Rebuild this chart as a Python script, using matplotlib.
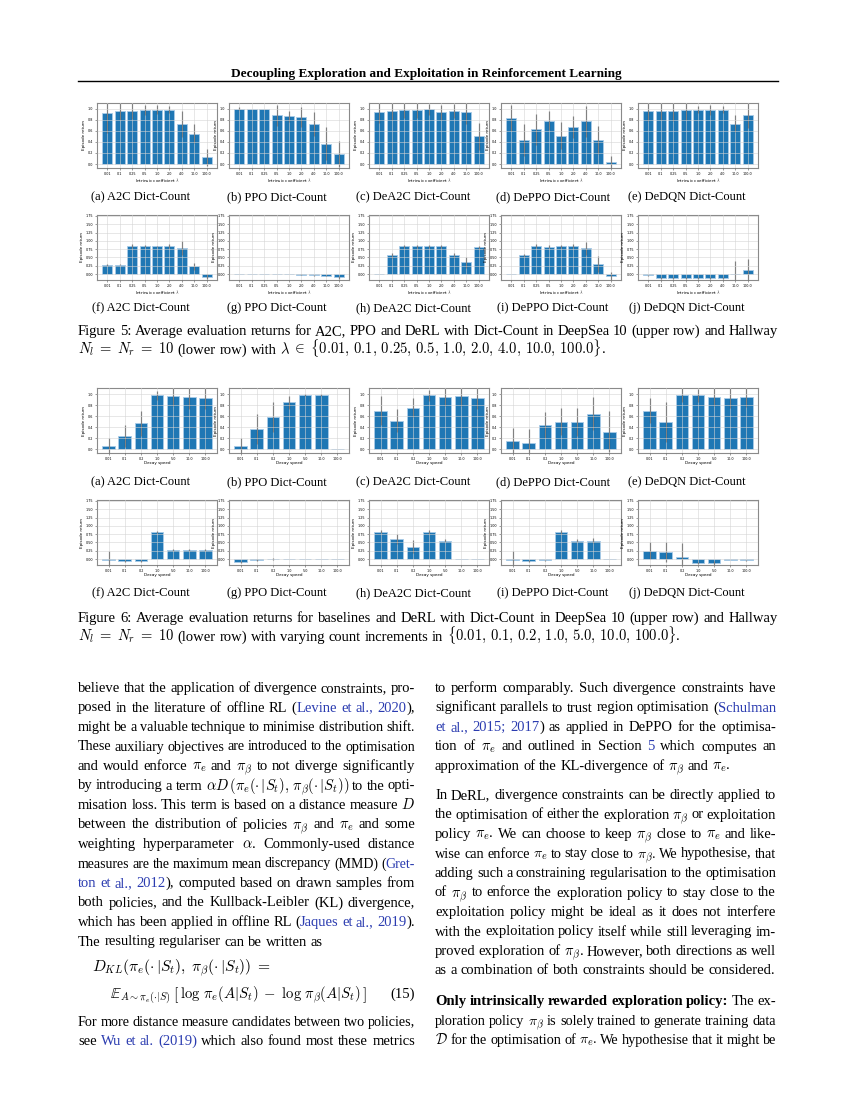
import re
import numpy as np
import matplotlib
matplotlib.use("Agg")
import matplotlib.pyplot as plt

# ------------------------------------------
# data
# ------------------------------------------
lambdas = ['0.01', '0.1', '0.25', '0.5', '1.0', '2.0', '4.0', '10.0', '100.0']
decays = ['0.01', '0.1', '0.2', '1.0', '5.0', '10.0', '100.0']
methods = ['A2C', 'PPO', 'DeA2C', 'DePPO', 'DeDQN']

# Figure 5, DeepSea 10 (rows: A2C, PPO, DeA2C, DePPO, DeDQN)
deepsea_lam_mean = [
    [0.92, 0.96, 0.96, 0.98, 0.98, 0.98, 0.72, 0.55, 0.12],
    [1.00, 1.00, 1.00, 0.88, 0.86, 0.84, 0.72, 0.37, 0.18],
    [0.93, 0.96, 0.98, 0.98, 0.99, 0.93, 0.96, 0.93, 0.50],
    [0.83, 0.43, 0.63, 0.78, 0.51, 0.67, 0.77, 0.43, 0.03],
    [0.95, 0.96, 0.96, 0.97, 0.98, 0.98, 0.98, 0.73, 0.88],
]
deepsea_lam_err = [
    [0.36, 0.16, 0.14, 0.09, 0.08, 0.06, 0.24, 0.17, 0.16],
    [0.02, 0.00, 0.00, 0.19, 0.10, 0.18, 0.22, 0.29, 0.24],
    [0.19, 0.16, 0.15, 0.15, 0.10, 0.13, 0.13, 0.21, 0.24],
    [0.24, 0.29, 0.28, 0.17, 0.24, 0.20, 0.28, 0.25, 0.12],
    [0.18, 0.16, 0.19, 0.17, 0.06, 0.09, 0.06, 0.16, 0.23],
]
# Figure 5, Hallway
hallway_lam_mean = [
    [0.28, 0.28, 0.84, 0.84, 0.84, 0.84, 0.79, 0.23, -0.08],
    [0.00, 0.00, 0.00, 0.00, 0.00, -0.02, -0.04, -0.05, -0.10],
    [0.00, 0.56, 0.84, 0.84, 0.84, 0.84, 0.56, 0.35, 0.81],
    [0.00, 0.56, 0.84, 0.82, 0.84, 0.84, 0.77, 0.30, -0.05],
    [-0.04, -0.11, -0.11, -0.11, -0.11, -0.11, -0.11, 0.01, 0.13],
]
hallway_lam_err = [
    [0.03, 0.02, 0.06, 0.03, 0.02, 0.07, 0.22, 0.10, 0.08],
    [0.00, 0.00, 0.00, 0.00, 0.00, 0.01, 0.02, 0.02, 0.04],
    [0.00, 0.07, 0.05, 0.05, 0.05, 0.05, 0.07, 0.17, 0.05],
    [0.00, 0.05, 0.06, 0.05, 0.05, 0.06, 0.20, 0.24, 0.12],
    [0.02, 0.03, 0.03, 0.03, 0.03, 0.03, 0.03, 0.38, 0.32],
]
# Figure 6, DeepSea 10
deepsea_dec_mean = [
    [0.05, 0.23, 0.47, 0.98, 0.96, 0.94, 0.92],
    [0.05, 0.36, 0.58, 0.85, 0.99, 0.99, 0.00],
    [0.70, 0.52, 0.75, 0.98, 0.95, 0.96, 0.93],
    [0.14, 0.12, 0.44, 0.50, 0.49, 0.64, 0.32],
    [0.70, 0.49, 0.98, 0.98, 0.95, 0.93, 0.94],
]
deepsea_dec_err = [
    [0.15, 0.20, 0.23, 0.08, 0.18, 0.21, 0.20],
    [0.15, 0.27, 0.27, 0.12, 0.02, 0.02, 0.00],
    [0.27, 0.21, 0.17, 0.10, 0.16, 0.17, 0.20],
    [0.25, 0.24, 0.23, 0.25, 0.26, 0.30, 0.37],
    [0.23, 0.36, 0.13, 0.12, 0.16, 0.19, 0.17],
]
# Figure 6, Hallway
hallway_dec_mean = [
    [-0.03, -0.06, -0.05, 0.82, 0.27, 0.27, 0.27],
    [-0.10, -0.03, 0.00, 0.00, 0.00, 0.00, 0.00],
    [0.82, 0.61, 0.37, 0.82, 0.55, 0.00, 0.00],
    [-0.03, -0.06, -0.04, 0.82, 0.55, 0.55, 0.00],
    [0.25, 0.20, 0.07, -0.12, -0.12, -0.03, -0.04],
]
hallway_dec_err = [
    [0.26, 0.03, 0.03, 0.04, 0.03, 0.02, 0.03],
    [0.03, 0.02, 0.03, 0.00, 0.00, 0.00, 0.00],
    [0.05, 0.15, 0.20, 0.06, 0.05, 0.00, 0.00],
    [0.27, 0.03, 0.02, 0.06, 0.04, 0.07, 0.00],
    [0.26, 0.30, 0.40, 0.03, 0.05, 0.01, 0.02],
]

# ------------------------------------------
# page setup
# ------------------------------------------
plt.rcParams['font.family'] = ['Liberation Serif', 'DejaVu Serif']
plt.rcParams['mathtext.fontset'] = 'cm'

W, H = 850, 1100
fig = plt.figure(figsize=(8.5, 11), dpi=100)
renderer = fig.canvas.get_renderer()

BODY = 10.5
CAP = 9.0
BLUE = '#2b3cb0'
BAR = '#1f77b4'


def fx(x):
    return x / W


def fy(y):
    return 1 - y / H


def put(x, y, s, size=BODY, color='black', weight='normal', ha='left'):
    return fig.text(fx(x), fy(y), s, fontsize=size, color=color,
                    fontweight=weight, ha=ha, va='baseline')


def tokens(s):
    return re.findall(r'[^\s$]*\$[^$]*\$[^\s$]*|\S+', s)


def line(x0, x1, y, s, size=BODY, justify=True):
    # one line of text, words placed one by one so it can be justified
    words = []
    for t in tokens(s):
        parts = []
        for p in re.split(r'(«[^»]*»|‹[^›]*›)', t):
            if not p:
                continue
            col, wt = 'black', 'normal'
            if p.startswith('«'):
                p, col = p[1:-1], BLUE
            elif p.startswith('‹'):
                p, wt = p[1:-1], 'bold'
            parts.append(put(0, y, p, size=size, color=col, weight=wt))
        words.append(parts)

    def measure(sz):
        for parts in words:
            for txt in parts:
                txt.set_fontsize(sz)
        return [[txt.get_window_extent(renderer).width for txt in parts] for parts in words]

    sz = size
    ws = measure(sz)
    space = 0.25 * sz * 100 / 72
    if justify and len(words) > 1:
        # shrink a touch if the line would get too tight
        while True:
            space = (x1 - x0 - sum(sum(w) for w in ws)) / (len(words) - 1)
            if space >= 0.2 * sz * 100 / 72 or sz < size - 0.8:
                break
            sz -= 0.1
            ws = measure(sz)
    x = x0
    for parts, wl in zip(words, ws):
        xx = x
        for txt, w in zip(parts, wl):
            txt.set_position((fx(xx), fy(y)))
            xx += w
        x += sum(wl) + space


# ------------------------------------------
# header
# ------------------------------------------
put(426, 77, 'Decoupling Exploration and Exploitation in Reinforcement Learning',
    size=9.5, weight='bold', ha='center')
fig.add_artist(plt.Line2D([fx(78), fx(778)], [fy(81), fy(81)], color='black', lw=1.0))

# ------------------------------------------
# bar panels
# ------------------------------------------
centers = [157, 289, 429, 561, 698]
cap_centers = [141, 277, 413, 553, 687]
PW, PH = 120, 65


def panel(cx, top, labels, mean, err, ylim, yticks, fmt, xlabel):
    ax = fig.add_axes([fx(cx - PW / 2), fy(top + PH), PW / W, PH / H])
    x = np.arange(len(labels))
    ax.bar(x, mean, yerr=err, width=0.8, color=BAR, edgecolor='#a9cbe8', linewidth=0.6,
           error_kw=dict(ecolor='#1a1a1a', elinewidth=0.8, capsize=0))
    ax.set_ylim(*ylim)
    ax.set_xticks(x)
    ax.set_xticklabels(labels, fontsize=2.4, family='DejaVu Sans')
    ax.set_yticks(yticks)
    ax.set_yticklabels([fmt.format(v) for v in yticks], fontsize=2.4, family='DejaVu Sans')
    ax.tick_params(length=1.2, width=0.4, pad=1.5, color='#555555')
    ax.set_xlabel(xlabel, fontsize=3.0, family='DejaVu Sans', labelpad=0.5)
    ax.set_ylabel('Episode return', fontsize=3.0, family='DejaVu Sans', labelpad=1.5)
    ax.grid(True, color='#d4d4d4', linewidth=0.5, alpha=0.8)
    ax.set_axisbelow(False)
    for sp in ax.spines.values():
        sp.set_color('#8a8a8a')
        sp.set_linewidth(0.8)
    return ax


lam_label = 'Intrinsic coefficient $\\lambda$'
rows = [
    (103, 195, lambdas, deepsea_lam_mean, deepsea_lam_err, (-0.07, 1.1),
     [0.0, 0.2, 0.4, 0.6, 0.8, 1.0], '{:.1f}', lam_label, 'abcde'),
    (215, 306, lambdas, hallway_lam_mean, hallway_lam_err, (-0.18, 1.78),
     [0.0, 0.25, 0.5, 0.75, 1.0, 1.25, 1.5, 1.75], '{:.2f}', lam_label, 'fghij'),
    (388, 480, decays, deepsea_dec_mean, deepsea_dec_err, (-0.07, 1.11),
     [0.0, 0.2, 0.4, 0.6, 0.8, 1.0], '{:.1f}', 'Decay speed', 'abcde'),
    (500, 591, decays, hallway_dec_mean, hallway_dec_err, (-0.18, 1.78),
     [0.0, 0.25, 0.5, 0.75, 1.0, 1.25, 1.5, 1.75], '{:.2f}', 'Decay speed', 'fghij'),
]
for top, cap_y, labels, means, errs, ylim, yt, fmt, xl, letters in rows:
    for i in range(5):
        panel(centers[i], top, labels, means[i], errs[i], ylim, yt, fmt, xl)
        put(cap_centers[i], cap_y + 5, f'({letters[i]}) {methods[i]} Dict-Count',
            size=CAP, ha='center')

# ------------------------------------------
# figure captions
# ------------------------------------------
lam_set = ',\\,'.join(lambdas)
dec_set = ',\\,'.join(decays)
line(78, 778, 335, 'Figure 5: Average evaluation returns for A2C, PPO and DeRL with Dict-Count '
                   'in DeepSea 10 (upper row) and Hallway')
line(78, 778, 354, '$N_l\\;=\\;N_r\\;=\\;10$ (lower row) with '
                   '$\\lambda\\;\\in\\;\\{' + lam_set + '\\}$.', justify=False)
line(78, 778, 622, 'Figure 6: Average evaluation returns for baselines and DeRL with Dict-Count '
                   'in DeepSea 10 (upper row) and Hallway')
line(78, 778, 641, '$N_l\\;=\\;N_r\\;=\\;10$ (lower row) with varying count increments in '
                   '$\\{' + dec_set + '\\}$.', justify=False)

# ------------------------------------------
# body text, two columns
# ------------------------------------------
left_lines = [
    ('believe that the application of divergence constraints, pro-', True),
    ('posed in the literature of offline RL («Levine» «et» «al.,» «2020»),', True),
    ('might be a valuable technique to minimise distribution shift.', True),
    ('These auxiliary objectives are introduced to the optimisation', True),
    ('and would enforce $\\pi_e$ and $\\pi_\\beta$ to not diverge significantly', True),
    ('by introducing a term $\\alpha D\\,(\\pi_e(\\cdot\\,|S_t),\\, \\pi_\\beta(\\cdot\\,|S_t))$ to the opti-', True),
    ('misation loss. This term is based on a distance measure $D$', True),
    ('between the distribution of policies $\\pi_\\beta$ and $\\pi_e$ and some', True),
    ('weighting hyperparameter $\\alpha$. Commonly-used distance', True),
    ('measures are the maximum mean discrepancy (MMD) («Gret-»', True),
    ('«ton» «et» «al.,» «2012»), computed based on drawn samples from', True),
    ('both policies, and the Kullback-Leibler (KL) divergence,', True),
    ('which has been applied in offline RL («Jaques» «et» «al.,» «2019»).', True),
    ('The resulting regulariser can be written as', False),
]
for i, (s, j) in enumerate(left_lines):
    line(78, 415, 692 + 19.5 * i, s, justify=j)

put(92, 972, '$D_{KL}(\\pi_e(\\cdot\\,|S_t),\\; \\pi_\\beta(\\cdot\\,|S_t))\\;=$', size=11.2)
put(110, 998, '$\\mathbb{E}_{A\\sim\\pi_e(\\cdot|S)}\\;\\left[\\,\\log\\,\\pi_e(A|S_t)\\;-\\;'
              '\\log\\,\\pi_\\beta(A|S_t)\\,\\right]$', size=10.6)
put(415, 998, '(15)', ha='right')
line(78, 415, 1026, 'For more distance measure candidates between two policies,')
line(78, 415, 1045, 'see «Wu» «et» «al.» «(2019)» which also found most these metrics')

right_lines = [
    (692, 'to perform comparably. Such divergence constraints have', True),
    (711.5, 'significant parallels to trust region optimisation («Schulman»', True),
    (731, '«et» «al.,» «2015;» «2017») as applied in DePPO for the optimisa-', True),
    (750.5, 'tion of $\\pi_e$ and outlined in Section «5» which computes an', True),
    (770, 'approximation of the KL-divergence of $\\pi_\\beta$ and $\\pi_e$.', False),
]
para2 = [
    ('In DeRL, divergence constraints can be directly applied to', True),
    ('the optimisation of either the exploration $\\pi_\\beta$ or exploitation', True),
    ('policy $\\pi_e$. We can choose to keep $\\pi_\\beta$ close to $\\pi_e$ and like-', True),
    ('wise can enforce $\\pi_e$ to stay close to $\\pi_\\beta$. We hypothesise, that', True),
    ('adding such a constraining regularisation to the optimisation', True),
    ('of $\\pi_\\beta$ to enforce the exploration policy to stay close to the', True),
    ('exploitation policy might be ideal as it does not interfere', True),
    ('with the exploitation policy itself while still leveraging im-', True),
    ('proved exploration of $\\pi_\\beta$. However, both directions as well', True),
    ('as a combination of both constraints should be considered.', False),
]
for i, (s, j) in enumerate(para2):
    right_lines.append((799 + 19.5 * i, s, j))
right_lines += [
    (1005, '‹Only› ‹intrinsically› ‹rewarded› ‹exploration› ‹policy:› The ex-', True),
    (1025, 'ploration policy $\\pi_\\beta$ is solely trained to generate training data', True),
    (1044, '$\\mathcal{D}$ for the optimisation of $\\pi_e$. We hypothesise that it might be', True),
]
for y, s, j in right_lines:
    line(435, 776, y, s, justify=j)

fig.savefig('out.png', dpi=100)
